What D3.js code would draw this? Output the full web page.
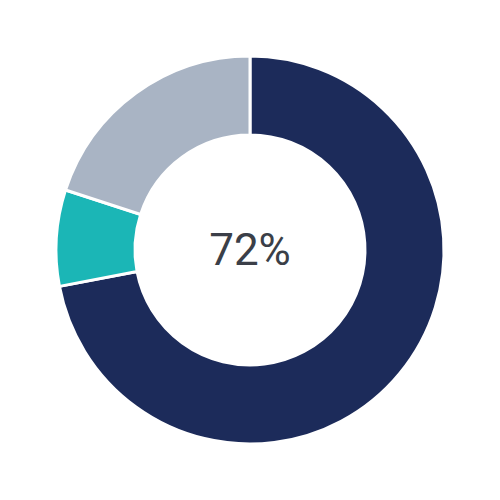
<!DOCTYPE html>
<html><head><meta charset="utf-8">
<script src="https://cdn.jsdelivr.net/npm/d3@7"></script>
<style>body{margin:0;background:#fff}</style>
</head><body>
<script>
const labels = ["A", "B", "C"];
const values = [72, 8, 20];
const colors = ["#1c2b5a", "#1bb6b6", "#a9b4c4"];
const centerLabel = "72%";

const width = 500, height = 500;
const svg = d3.select("body").append("svg").attr("width", width).attr("height", height);
const g = svg.append("g").attr("transform", "translate(250,250)");

const pie = d3.pie().sort(null).value(d => d)(values);
const arc = d3.arc().innerRadius(115).outerRadius(194);

g.selectAll("path")
  .data(pie)
  .join("path")
  .attr("d", arc)
  .attr("fill", (d, i) => colors[i])
  .attr("stroke", "#fff")
  .attr("stroke-width", 3);

g.append("text")
  .attr("text-anchor", "middle")
  .attr("dy", "0.35em")
  .attr("font-family", "Roboto, sans-serif")
  .attr("font-size", 44)
  .attr("fill", "#3b3f48")
  .text(centerLabel);
</script>
</body></html>
